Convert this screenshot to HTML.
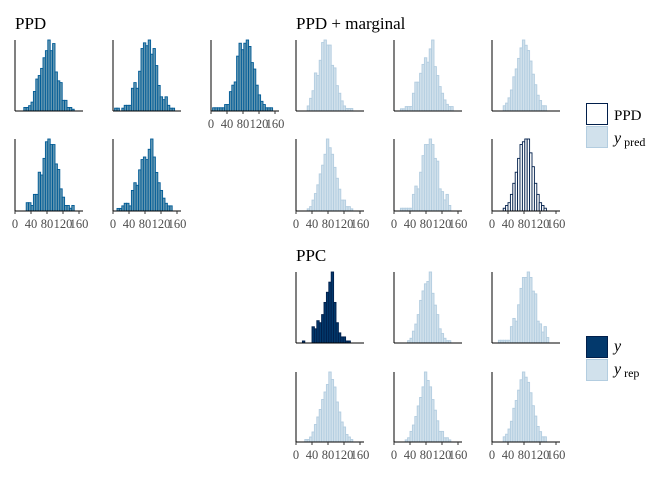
<!DOCTYPE html>
<html><head><meta charset="utf-8"><style>
body{margin:0;background:#fff}
svg{display:block;font-family:"Liberation Serif",serif}
</style></head><body>
<svg id="c" width="672" height="480" xmlns="http://www.w3.org/2000/svg">
<text x="15" y="29" font-size="17">PPD</text>
<text x="296" y="29" font-size="17">PPD + marginal</text>
<text x="296" y="261" font-size="17">PPC</text>
<g>
<rect x="586.5" y="103.5" width="21" height="21" fill="#fff" stroke="#011f4b"/>
<text x="614" y="120" font-size="15">PPD</text>
<rect x="586.5" y="126.5" width="21" height="21" fill="#d1e1ec" stroke="#b3cde0"/>
<text x="614" y="143" font-size="16" font-style="italic">y<tspan font-style="normal" font-size="12" dy="3"> pred</tspan></text>
</g>
<g>
<rect x="586.5" y="336.5" width="21" height="21" fill="#03396c" stroke="#011f4b"/>
<text x="614" y="351" font-size="16" font-style="italic">y</text>
<rect x="586.5" y="359.5" width="21" height="21" fill="#d1e1ec" stroke="#b3cde0"/>
<text x="614" y="374" font-size="16" font-style="italic">y<tspan font-style="normal" font-size="12" dy="3"> rep</tspan></text>
</g>
</svg>
<script>
const binStart = -2;
const binWidth = 6;
const tickValues = [0, 40, 80, 120, 160];
const tickLabels = ["0", "40", "80", "120", "160"];
// counts per bin (bins start at -2, width 6)
const ppd1 = [0,0,0,0,2,2,3,5,11,18,20,24,30,34,40,34,38,22,17,16,6,6,2,2,1,0,0,0];
const ppd2 = [0,1,1,0,1,2,2,2,8,10,8,14,22,24,23,25,20,22,16,9,5,4,5,2,1,1,0,0];
const ppd3 = [0,1,1,1,1,1,2,2,6,8,9,17,21,19,21,22,20,15,13,8,5,3,2,1,1,1,0,0];
const ppd4 = [0,0,0,0,0,3,3,2,6,6,14,13,19,25,26,24,24,17,15,8,5,2,2,1,2,0,0,0];
const ppd5 = [0,0,1,1,2,3,3,2,8,11,10,16,20,21,20,24,28,21,15,11,8,5,3,2,2,0,0,0];
const mar1 = [0,0,0,0,0,2,5,8,15,14,20,27,28,26,26,18,17,10,7,4,2,1,1,1,0,0,0,0];
const mar2 = [0,0,0,1,1,2,2,2,8,13,13,17,21,24,22,28,32,20,16,11,8,5,3,2,2,0,0,0];
const mar3 = [0,0,0,0,0,1,2,3,6,10,14,19,24,25,26,26,21,16,10,6,3,2,1,0,0,0,0,0];
const ppcY = [0,0,0,1,0,0,0,8,7,11,10,14,20,25,30,35,20,10,5,3,3,1,1,0,0,0,0,0];
const rep1 = [0,0,0,0,0,1,2,5,8,12,17,21,26,33,29,26,20,15,10,5,5,2,2,1,0,0,0,0];
const rep2 = [0,0,0,1,1,1,1,1,6,9,8,14,20,24,24,26,24,19,18,8,7,4,6,2,0,0,0,0];
const rep3 = [0,0,0,0,0,2,3,5,8,13,16,20,24,27,25,23,19,14,10,6,4,2,2,0,0,0,0,0];
const rep4 = [0,0,0,0,0,0,1,2,5,8,12,18,22,25,26,30,21,16,12,6,4,2,1,1,0,0,0,0];
const rep5 = [0,0,0,0,1,1,2,4,7,10,13,17,20,23,28,25,22,16,12,8,6,3,2,1,0,0,0,0];

const NS="http://www.w3.org/2000/svg";
const svg=document.getElementById('c');
const styles={
 ppd:{fill:"#6497b1",stroke:"#005b96"},
 light:{fill:"#d1e1ec",stroke:"#b3cde0"},
 outline:{fill:"#ffffff",stroke:"#011f4b"},
 dark:{fill:"#03396c",stroke:"#011f4b"}
};
function el(t,a){const e=document.createElementNS(NS,t);for(const k in a)e.setAttribute(k,a[k]);return e;}
function panel(name,x0,top,base,counts,st,showTicks){
 const g=el('g',{});
 
 
 svg.appendChild(g);
 const w=68, dom=170;
 const sx=v=>x0+v/dom*w;
 const mx=Math.max(...counts);
 const sy=c=>base-c/mx*(base-top);
 counts.forEach((c,i)=>{
  if(c<=0)return;
  const a=sx(binStart+i*binWidth), b=sx(binStart+(i+1)*binWidth);
  const r=el('rect',{x:a,y:sy(c),width:b-a,height:base-sy(c),fill:st.fill,stroke:st.stroke,'stroke-width':0.9});
  
  
  g.appendChild(r);
 });
 g.appendChild(el('line',{x1:x0,y1:top,x2:x0,y2:base,stroke:'#000','stroke-width':1}));
 g.appendChild(el('line',{x1:x0,y1:base,x2:x0+w,y2:base,stroke:'#000','stroke-width':1}));
 if(showTicks){
  tickValues.forEach((v,i)=>{
   g.appendChild(el('line',{x1:sx(v),y1:base,x2:sx(v),y2:base+3,stroke:'#333'}));
   const t=el('text',{x:sx(v),y:base+17,'font-size':12.5,'text-anchor':'middle',fill:'#4d4d4d'});
   t.textContent=tickLabels[i];
   
   
   g.appendChild(t);
  });
 }
}
panel('ppd-panel-1',15,40,111,ppd1,styles.ppd,false);
panel('ppd-panel-2',113,40,111,ppd2,styles.ppd,false);
panel('ppd-panel-3',211,40,111,ppd3,styles.ppd,true);
panel('ppd-panel-4',15,139,211,ppd4,styles.ppd,true);
panel('ppd-panel-5',113,139,211,ppd5,styles.ppd,true);
panel('marginal-panel-1',296,40,111,mar1,styles.light,false);
panel('marginal-panel-2',394,40,111,mar2,styles.light,false);
panel('marginal-panel-3',492,40,111,rep3,styles.light,false);
panel('marginal-panel-4',296,139,211,rep1,styles.light,true);
panel('marginal-panel-5',394,139,211,rep2,styles.light,true);
panel('marginal-panel-ppd',492,139,211,mar3,styles.outline,true);
panel('ppc-observed-y',296,272,343,ppcY,styles.dark,false);
panel('ppc-rep-1',394,272,343,rep4,styles.light,false);
panel('ppc-rep-2',492,272,343,rep2,styles.light,false);
panel('ppc-rep-3',296,372,442,rep5,styles.light,true);
panel('ppc-rep-4',394,372,442,rep1,styles.light,true);
panel('ppc-rep-5',492,372,442,rep3,styles.light,true);
</script>
</body></html>
